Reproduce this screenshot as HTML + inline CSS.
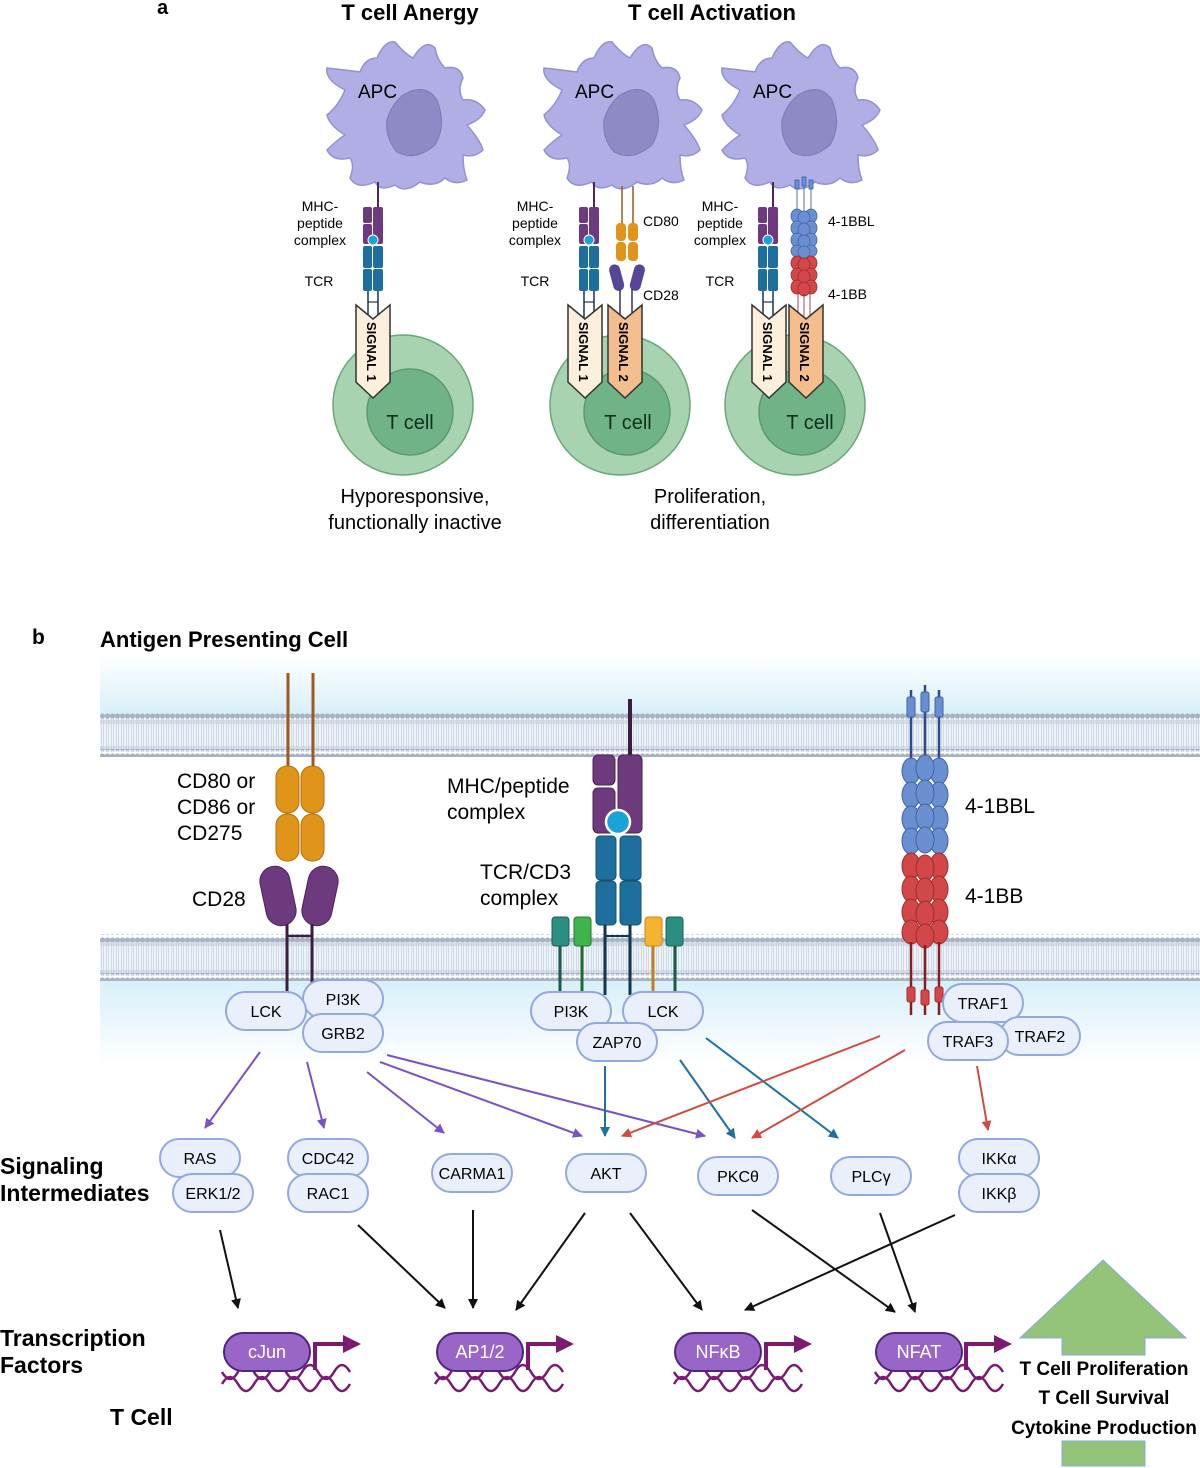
<!DOCTYPE html>
<html><head><meta charset="utf-8"><style>
html,body{margin:0;padding:0;background:#fff}
svg{display:block;font-family:"Liberation Sans",sans-serif}
</style></head><body>
<svg width="1200" height="1468" viewBox="0 0 1200 1468" xmlns="http://www.w3.org/2000/svg">
<defs>
<linearGradient id="gtop" x1="0" y1="0" x2="0" y2="1"><stop offset="0" stop-color="#fff"/><stop offset="1" stop-color="#d8eff9"/></linearGradient>
<linearGradient id="gbot" x1="0" y1="0" x2="0" y2="1"><stop offset="0" stop-color="#d8eff9"/><stop offset="1" stop-color="#fff"/></linearGradient>
<pattern id="beads" width="5" height="8" patternUnits="userSpaceOnUse"><circle cx="2.5" cy="4" r="2.6" fill="#a7b2c4"/></pattern>
<pattern id="tails" width="5" height="10" patternUnits="userSpaceOnUse"><rect width="5" height="10" fill="#eef3f9"/><line x1="1.5" y1="0" x2="1.5" y2="10" stroke="#c9d3e2" stroke-width="0.8"/><line x1="3.5" y1="0" x2="3.5" y2="10" stroke="#c9d3e2" stroke-width="0.8"/></pattern>
<marker id="ap" viewBox="0 0 10 10" refX="9" refY="5" markerWidth="5" markerHeight="5" orient="auto"><path d="M0,0L10,5L0,10z" fill="#7a52c4"/></marker>
<marker id="ab" viewBox="0 0 10 10" refX="9" refY="5" markerWidth="5" markerHeight="5" orient="auto"><path d="M0,0L10,5L0,10z" fill="#1f6f9f"/></marker>
<marker id="ar" viewBox="0 0 10 10" refX="9" refY="5" markerWidth="5" markerHeight="5" orient="auto"><path d="M0,0L10,5L0,10z" fill="#d04a40"/></marker>
<marker id="ak" viewBox="0 0 10 10" refX="9" refY="5" markerWidth="5" markerHeight="5" orient="auto"><path d="M0,0L10,5L0,10z" fill="#111"/></marker>
<g id="apc">
 <path d="M-60,-30 Q-80,-40 -78,-52 Q-60,-50 -45,-48 Q-40,-62 -28,-62 Q-20,-80 -10,-78 Q0,-66 8,-62 Q20,-82 30,-72 Q32,-60 40,-52 Q55,-55 58,-42 Q52,-30 58,-20 Q72,-22 80,-10 Q76,0 62,5 Q75,20 78,30 Q70,38 58,35 Q58,50 62,60 Q50,66 40,58 Q30,68 15,62 Q0,74 -10,65 Q-25,72 -30,62 Q-48,70 -55,58 Q-50,45 -55,38 Q-72,42 -78,30 Q-68,20 -60,15 Q-76,5 -78,-5 Q-66,-15 -60,-30z" fill="#b0aee4" stroke="#9491d0" stroke-width="1.5"/>
 <path d="M-2,-25 Q20,-38 32,-20 Q42,5 30,25 Q10,42 -8,32 Q-20,18 -18,0 Q-14,-15 -2,-25z" fill="#8e8ac6" stroke="#7d79b8" stroke-width="1"/>
</g>
<g id="tcell">
 <circle cx="0" cy="0" r="70" fill="#a8d3b0" stroke="#6aa578" stroke-width="1.5"/>
 <circle cx="7" cy="7" r="43" fill="#70b387" stroke="#5c9a6e" stroke-width="1.5"/>
</g>
<g id="mhc">
 <line x1="6" y1="-25" x2="6" y2="0" stroke="#4a2a55" stroke-width="2"/>
 <rect x="-9" y="0" width="9" height="16" rx="2" fill="#6e3a7e"/>
 <rect x="-9" y="17" width="9" height="20" rx="2" fill="#6e3a7e"/>
 <rect x="1" y="0" width="10" height="37" rx="2" fill="#6e3a7e"/>
 <circle cx="1" cy="33" r="5" fill="#1aa3d8" stroke="#fff" stroke-width="1"/>
 <rect x="-9" y="39" width="9" height="22" rx="2" fill="#1e6f9d"/>
 <rect x="1" y="39" width="10" height="22" rx="2" fill="#1e6f9d"/>
 <rect x="-9" y="62" width="9" height="22" rx="2" fill="#1e6f9d"/>
 <rect x="1" y="62" width="10" height="22" rx="2" fill="#1e6f9d"/>
 <line x1="-4" y1="84" x2="-4" y2="120" stroke="#1a3550" stroke-width="1.5"/>
 <line x1="6" y1="84" x2="6" y2="120" stroke="#1a3550" stroke-width="1.5"/>
 <line x1="-4" y1="95" x2="6" y2="95" stroke="#1a3550" stroke-width="1.2"/>
</g>
<polygon id="chev" points="-17,0 0,14 17,0 17,77 0,93 -17,77" stroke="#333" stroke-width="1.5"/>
<g id="node"><rect x="-40" y="-19" width="80" height="38" rx="19" fill="#e9f0fb" stroke="#93a8dc" stroke-width="2"/></g>
</defs>

<text x="157" y="14" font-size="20" font-weight="bold">a</text>
<text x="410" y="20" font-size="22" font-weight="bold" text-anchor="middle">T cell Anergy</text>
<text x="712" y="20" font-size="22" font-weight="bold" text-anchor="middle">T cell Activation</text>

<use href="#apc" x="405" y="120"/>
<use href="#apc" x="622" y="120"/>
<use href="#apc" x="800" y="120"/>
<text x="358" y="98" font-size="19">APC</text>
<text x="575" y="98" font-size="19">APC</text>
<text x="753" y="98" font-size="19">APC</text>

<use href="#tcell" x="403" y="405"/>
<use href="#tcell" x="620" y="405"/>
<use href="#tcell" x="795" y="405"/>
<text x="410" y="429" font-size="20" text-anchor="middle" fill="#10301c">T cell</text>
<text x="628" y="429" font-size="20" text-anchor="middle" fill="#10301c">T cell</text>
<text x="810" y="429" font-size="20" text-anchor="middle" fill="#10301c">T cell</text>

<use href="#mhc" x="372" y="207"/>
<use href="#mhc" x="588" y="207"/>
<use href="#mhc" x="767" y="207"/>

<line x1="622" y1="186" x2="622" y2="224" stroke="#9a5a20" stroke-width="1.5"/>
<line x1="633" y1="186" x2="633" y2="224" stroke="#9a5a20" stroke-width="1.5"/>
<rect x="616" y="223" width="10" height="18" rx="4" fill="#e0941a"/>
<rect x="628" y="223" width="10" height="18" rx="4" fill="#e0941a"/>
<rect x="616" y="242" width="10" height="19" rx="4" fill="#e0941a"/>
<rect x="628" y="242" width="10" height="19" rx="4" fill="#e0941a"/>
<rect x="611" y="264" width="11" height="27" rx="5.5" fill="#574596" transform="rotate(-15 617 277)"/>
<rect x="632" y="264" width="11" height="27" rx="5.5" fill="#574596" transform="rotate(15 637 277)"/>
<line x1="620" y1="289" x2="620" y2="325" stroke="#333366" stroke-width="1.5"/>
<line x1="632" y1="289" x2="632" y2="325" stroke="#333366" stroke-width="1.5"/>

<g fill="#6a8fd0" stroke="#3e62a8" stroke-width="0.8">
<line x1="797" y1="182" x2="797" y2="212" stroke="#2e4c8c"/><line x1="804" y1="178" x2="804" y2="212" stroke="#2e4c8c"/><line x1="811" y1="182" x2="811" y2="212" stroke="#2e4c8c"/>
<rect x="795" y="180" width="4" height="9"/><rect x="802" y="177" width="4" height="9"/><rect x="809" y="180" width="4" height="9"/>
<ellipse cx="797" cy="216" rx="6" ry="7"/><ellipse cx="811" cy="216" rx="6" ry="7"/><ellipse cx="804" cy="218" rx="6" ry="7"/>
<ellipse cx="797" cy="228" rx="6" ry="7"/><ellipse cx="811" cy="228" rx="6" ry="7"/><ellipse cx="804" cy="230" rx="6" ry="7"/>
<ellipse cx="797" cy="240" rx="6" ry="7"/><ellipse cx="811" cy="240" rx="6" ry="7"/><ellipse cx="804" cy="242" rx="6" ry="7"/>
<ellipse cx="797" cy="251" rx="6" ry="6"/><ellipse cx="811" cy="251" rx="6" ry="6"/><ellipse cx="804" cy="252" rx="6" ry="6"/>
</g>
<g fill="#d24848" stroke="#a02c2c" stroke-width="0.8">
<ellipse cx="797" cy="263" rx="6" ry="7"/><ellipse cx="811" cy="263" rx="6" ry="7"/><ellipse cx="804" cy="265" rx="6" ry="7"/>
<ellipse cx="797" cy="275" rx="6" ry="7"/><ellipse cx="811" cy="275" rx="6" ry="7"/><ellipse cx="804" cy="277" rx="6" ry="7"/>
<ellipse cx="797" cy="287" rx="6" ry="7"/><ellipse cx="811" cy="287" rx="6" ry="7"/><ellipse cx="804" cy="289" rx="6" ry="7"/>
<line x1="798" y1="294" x2="798" y2="325" stroke="#8a1e1e"/><line x1="804" y1="294" x2="804" y2="325" stroke="#8a1e1e"/><line x1="810" y1="294" x2="810" y2="325" stroke="#8a1e1e"/>
</g>

<use href="#chev" x="373" y="305" fill="#fcefdc"/>
<use href="#chev" x="585" y="305" fill="#fcefdc"/>
<use href="#chev" x="625" y="305" fill="#f4bd8e"/>
<use href="#chev" x="769" y="305" fill="#fcefdc"/>
<use href="#chev" x="806" y="305" fill="#f4bd8e"/>
<g font-size="13" font-weight="bold">
<text transform="translate(367,322) rotate(90)">SIGNAL 1</text>
<text transform="translate(579,322) rotate(90)">SIGNAL 1</text>
<text transform="translate(619,322) rotate(90)">SIGNAL 2</text>
<text transform="translate(763,322) rotate(90)">SIGNAL 1</text>
<text transform="translate(800,322) rotate(90)">SIGNAL 2</text>
</g>

<g font-size="14" text-anchor="middle">
<text x="320" y="211">MHC-</text><text x="320" y="228">peptide</text><text x="320" y="245">complex</text>
<text x="535" y="211">MHC-</text><text x="535" y="228">peptide</text><text x="535" y="245">complex</text>
<text x="720" y="211">MHC-</text><text x="720" y="228">peptide</text><text x="720" y="245">complex</text>
<text x="319" y="286">TCR</text><text x="535" y="286">TCR</text><text x="720" y="286">TCR</text>
</g>
<g font-size="14">
<text x="643" y="226">CD80</text><text x="643" y="300">CD28</text>
<text x="828" y="226">4-1BBL</text><text x="828" y="299">4-1BB</text>
</g>
<g font-size="20" text-anchor="middle">
<text x="415" y="503">Hyporesponsive,</text><text x="415" y="529">functionally inactive</text>
<text x="710" y="503">Proliferation,</text><text x="710" y="529">differentiation</text>
</g>

<text x="32" y="644" font-size="21" font-weight="bold">b</text>
<text x="100" y="647" font-size="22" font-weight="bold">Antigen Presenting Cell</text>

<rect x="100" y="655" width="1100" height="60" fill="url(#gtop)"/>
<rect x="100" y="980" width="1100" height="85" fill="url(#gbot)"/>
<rect x="100" y="718" width="1100" height="34" fill="url(#tails)"/>
<rect x="100" y="712" width="1100" height="8" fill="url(#beads)"/>
<rect x="100" y="720" width="1100" height="4" fill="#c7d0de" opacity="0.6"/>
<rect x="100" y="746" width="1100" height="4" fill="#c7d0de" opacity="0.6"/>
<rect x="100" y="749" width="1100" height="8" fill="url(#beads)"/>
<rect x="100" y="940" width="1100" height="36" fill="url(#tails)"/>
<rect x="100" y="934" width="1100" height="8" fill="url(#beads)"/>
<rect x="100" y="942" width="1100" height="4" fill="#c7d0de" opacity="0.6"/>
<rect x="100" y="970" width="1100" height="4" fill="#c7d0de" opacity="0.6"/>
<rect x="100" y="973" width="1100" height="8" fill="url(#beads)"/>

<line x1="288" y1="673" x2="288" y2="770" stroke="#9a5a20" stroke-width="3"/>
<line x1="313" y1="673" x2="313" y2="770" stroke="#9a5a20" stroke-width="3"/>
<g fill="#e0941a" stroke="#b07010" stroke-width="1">
<rect x="276" y="766" width="23" height="47" rx="11"/><rect x="301" y="766" width="23" height="47" rx="11"/>
<rect x="276" y="814" width="23" height="47" rx="11"/><rect x="301" y="814" width="23" height="47" rx="11"/>
</g>
<g fill="#6e3a7e" stroke="#4a2558" stroke-width="1">
<rect x="263" y="866" width="30" height="60" rx="15" transform="rotate(-12 278 896)"/>
<rect x="305" y="866" width="30" height="60" rx="15" transform="rotate(12 320 896)"/>
</g>
<line x1="287" y1="924" x2="287" y2="992" stroke="#3a2040" stroke-width="3"/>
<line x1="312" y1="924" x2="312" y2="992" stroke="#3a2040" stroke-width="3"/>
<line x1="287" y1="936" x2="312" y2="936" stroke="#3a2040" stroke-width="2.5"/>

<line x1="630" y1="699" x2="630" y2="757" stroke="#3a2040" stroke-width="4"/>
<g fill="#6e3a7e" stroke="#4a2558" stroke-width="1">
<rect x="593" y="755" width="22" height="30" rx="5"/>
<rect x="593" y="788" width="22" height="45" rx="5"/>
<rect x="618" y="755" width="24" height="78" rx="5"/>
</g>
<circle cx="618" cy="822" r="12" fill="#1aa3d8" stroke="#fff" stroke-width="2.5"/>
<g fill="#1e6f9d" stroke="#15506f" stroke-width="1">
<rect x="596" y="836" width="20" height="44" rx="4"/><rect x="620" y="836" width="21" height="44" rx="4"/>
<rect x="596" y="881" width="20" height="44" rx="4"/><rect x="620" y="881" width="21" height="44" rx="4"/>
</g>
<line x1="605" y1="925" x2="605" y2="995" stroke="#13354d" stroke-width="3"/>
<line x1="630" y1="925" x2="630" y2="995" stroke="#13354d" stroke-width="3"/>
<line x1="605" y1="936" x2="630" y2="936" stroke="#13354d" stroke-width="2"/>
<rect x="552" y="917" width="17" height="29" rx="3" fill="#2a8f80" stroke="#1c6056"/>
<rect x="574" y="917" width="17" height="29" rx="3" fill="#3db54a" stroke="#237a2e"/>
<rect x="645" y="917" width="17" height="29" rx="3" fill="#f6b330" stroke="#c8871a"/>
<rect x="666" y="917" width="17" height="29" rx="3" fill="#2a8f80" stroke="#1c6056"/>
<line x1="560" y1="946" x2="560" y2="995" stroke="#1c5a48" stroke-width="3"/>
<line x1="582" y1="946" x2="582" y2="995" stroke="#206a30" stroke-width="3"/>
<line x1="653" y1="946" x2="653" y2="995" stroke="#c0801a" stroke-width="3"/>
<line x1="675" y1="946" x2="675" y2="995" stroke="#1c5a48" stroke-width="3"/>

<g stroke="#2e4c8c" stroke-width="2.5">
<line x1="911" y1="690" x2="911" y2="775"/><line x1="925" y1="685" x2="925" y2="775"/><line x1="939" y1="690" x2="939" y2="775"/>
</g>
<g fill="#6a8fd0" stroke="#3e62a8" stroke-width="1">
<rect x="907" y="697" width="8" height="20" rx="2"/><rect x="921" y="692" width="8" height="20" rx="2"/><rect x="935" y="697" width="8" height="20" rx="2"/>
<ellipse cx="911" cy="771" rx="9" ry="13"/><ellipse cx="939" cy="771" rx="9" ry="13"/><ellipse cx="925" cy="768" rx="9" ry="13"/>
<ellipse cx="911" cy="795" rx="9" ry="13"/><ellipse cx="939" cy="795" rx="9" ry="13"/><ellipse cx="925" cy="793" rx="9" ry="13"/>
<ellipse cx="911" cy="819" rx="9" ry="13"/><ellipse cx="939" cy="819" rx="9" ry="13"/><ellipse cx="925" cy="817" rx="9" ry="13"/>
<ellipse cx="911" cy="841" rx="9" ry="13"/><ellipse cx="939" cy="841" rx="9" ry="13"/><ellipse cx="925" cy="840" rx="9" ry="13"/>
</g>
<g fill="#d24848" stroke="#a02c2c" stroke-width="1">
<ellipse cx="911" cy="866" rx="9" ry="13"/><ellipse cx="939" cy="866" rx="9" ry="13"/><ellipse cx="925" cy="868" rx="9" ry="13"/>
<ellipse cx="911" cy="889" rx="9" ry="13"/><ellipse cx="939" cy="889" rx="9" ry="13"/><ellipse cx="925" cy="891" rx="9" ry="13"/>
<ellipse cx="911" cy="912" rx="9" ry="13"/><ellipse cx="939" cy="912" rx="9" ry="13"/><ellipse cx="925" cy="914" rx="9" ry="13"/>
<ellipse cx="911" cy="932" rx="9" ry="12"/><ellipse cx="939" cy="932" rx="9" ry="12"/><ellipse cx="925" cy="936" rx="9" ry="12"/>
</g>
<g stroke="#8a1e1e" stroke-width="2.5">
<line x1="911" y1="942" x2="911" y2="1015"/><line x1="925" y1="945" x2="925" y2="1015"/><line x1="939" y1="942" x2="939" y2="1015"/>
</g>
<g fill="#d24848" stroke="#a02c2c"><rect x="907" y="987" width="8" height="15" rx="2"/><rect x="921" y="990" width="8" height="15" rx="2"/><rect x="935" y="987" width="8" height="15" rx="2"/></g>

<g font-size="21">
<text x="177" y="788">CD80 or</text><text x="177" y="814">CD86 or</text><text x="177" y="840">CD275</text>
<text x="192" y="906">CD28</text>
<text x="447" y="793">MHC/peptide</text><text x="447" y="819">complex</text>
<text x="480" y="879">TCR/CD3</text><text x="480" y="905">complex</text>
<text x="965" y="813">4-1BBL</text><text x="965" y="903">4-1BB</text>
</g>

<g stroke-width="2" fill="none">
<line x1="260" y1="1052" x2="205" y2="1128" stroke="#7a52c4" marker-end="url(#ap)"/>
<line x1="307" y1="1062" x2="324" y2="1128" stroke="#7a52c4" marker-end="url(#ap)"/>
<line x1="367" y1="1072" x2="444" y2="1133" stroke="#7a52c4" marker-end="url(#ap)"/>
<line x1="380" y1="1062" x2="582" y2="1136" stroke="#7a52c4" marker-end="url(#ap)"/>
<line x1="387" y1="1055" x2="705" y2="1136" stroke="#7a52c4" marker-end="url(#ap)"/>
<line x1="605" y1="1066" x2="605" y2="1136" stroke="#1f6f9f" marker-end="url(#ab)"/>
<line x1="680" y1="1060" x2="735" y2="1138" stroke="#1f6f9f" marker-end="url(#ab)"/>
<line x1="706" y1="1038" x2="838" y2="1138" stroke="#1f6f9f" marker-end="url(#ab)"/>
<line x1="880" y1="1036" x2="622" y2="1136" stroke="#d04a40" marker-end="url(#ar)"/>
<line x1="905" y1="1050" x2="752" y2="1138" stroke="#d04a40" marker-end="url(#ar)"/>
<line x1="977" y1="1066" x2="988" y2="1130" stroke="#d04a40" marker-end="url(#ar)"/>
<line x1="220" y1="1230" x2="238" y2="1308" stroke="#111" marker-end="url(#ak)"/>
<line x1="358" y1="1225" x2="445" y2="1308" stroke="#111" marker-end="url(#ak)"/>
<line x1="473" y1="1210" x2="473" y2="1308" stroke="#111" marker-end="url(#ak)"/>
<line x1="585" y1="1213" x2="516" y2="1310" stroke="#111" marker-end="url(#ak)"/>
<line x1="630" y1="1213" x2="702" y2="1310" stroke="#111" marker-end="url(#ak)"/>
<line x1="955" y1="1215" x2="745" y2="1310" stroke="#111" marker-end="url(#ak)"/>
<line x1="752" y1="1210" x2="895" y2="1312" stroke="#111" marker-end="url(#ak)"/>
<line x1="880" y1="1213" x2="915" y2="1312" stroke="#111" marker-end="url(#ak)"/>
</g>

<g font-size="16" text-anchor="middle">
<use href="#node" x="343" y="999"/><use href="#node" x="266" y="1011"/><use href="#node" x="343" y="1033"/>
<text x="266" y="1017">LCK</text><text x="343" y="1005">PI3K</text><text x="343" y="1039">GRB2</text>
<use href="#node" x="571" y="1011"/><use href="#node" x="663" y="1011"/><use href="#node" x="617" y="1042"/>
<text x="571" y="1017">PI3K</text><text x="663" y="1017">LCK</text><text x="617" y="1048">ZAP70</text>
<use href="#node" x="983" y="1003"/><use href="#node" x="1040" y="1036"/><use href="#node" x="968" y="1041"/>
<text x="983" y="1009">TRAF1</text><text x="1040" y="1042">TRAF2</text><text x="968" y="1047">TRAF3</text>
<use href="#node" x="200" y="1158"/><use href="#node" x="213" y="1193"/>
<text x="200" y="1164">RAS</text><text x="213" y="1199">ERK1/2</text>
<use href="#node" x="328" y="1158"/><use href="#node" x="328" y="1193"/>
<text x="328" y="1164">CDC42</text><text x="328" y="1199">RAC1</text>
<use href="#node" x="472" y="1173"/><text x="472" y="1179">CARMA1</text>
<use href="#node" x="606" y="1173"/><text x="606" y="1179">AKT</text>
<use href="#node" x="738" y="1176"/><text x="738" y="1182">PKCθ</text>
<use href="#node" x="871" y="1176"/><text x="871" y="1182">PLCγ</text>
<use href="#node" x="999" y="1158"/><use href="#node" x="999" y="1193"/>
<text x="999" y="1164">IKKα</text><text x="999" y="1199">IKKβ</text>
</g>

<g font-size="23" font-weight="bold">
<text x="0" y="1174">Signaling</text><text x="0" y="1201">Intermediates</text>
<text x="0" y="1346">Transcription</text><text x="0" y="1373">Factors</text>
<text x="110" y="1425">T Cell</text>
</g>

<g stroke="#7a1a70" stroke-width="2.5" fill="none">
<path d="M222,1372 q8,14 16,0 t16,0 t16,0 t16,0 t16,0 t16,0 t16,0 t16,0"/>
<path d="M222,1384 q8,-14 16,0 t16,0 t16,0 t16,0 t16,0 t16,0 t16,0 t16,0"/>
<path d="M435,1372 q8,14 16,0 t16,0 t16,0 t16,0 t16,0 t16,0 t16,0 t16,0"/>
<path d="M435,1384 q8,-14 16,0 t16,0 t16,0 t16,0 t16,0 t16,0 t16,0 t16,0"/>
<path d="M674,1372 q8,14 16,0 t16,0 t16,0 t16,0 t16,0 t16,0 t16,0 t16,0"/>
<path d="M674,1384 q8,-14 16,0 t16,0 t16,0 t16,0 t16,0 t16,0 t16,0 t16,0"/>
<path d="M875,1372 q8,14 16,0 t16,0 t16,0 t16,0 t16,0 t16,0 t16,0 t16,0"/>
<path d="M875,1384 q8,-14 16,0 t16,0 t16,0 t16,0 t16,0 t16,0 t16,0 t16,0"/>
<path d="M315,1370 V1344 H345" stroke-width="4"/>
<path d="M528,1370 V1344 H558" stroke-width="4"/>
<path d="M766,1370 V1344 H796" stroke-width="4"/>
<path d="M966,1370 V1344 H996" stroke-width="4"/>
</g>
<g fill="#7a1a70">
<polygon points="343,1335 361,1344 343,1353"/><polygon points="556,1335 574,1344 556,1353"/>
<polygon points="794,1335 812,1344 794,1353"/><polygon points="994,1335 1012,1344 994,1353"/>
</g>
<g fill="#9966c8" stroke="#4f2580" stroke-width="2">
<rect x="224" y="1333" width="86" height="38" rx="19"/>
<rect x="437" y="1333" width="86" height="38" rx="19"/>
<rect x="675" y="1333" width="86" height="38" rx="19"/>
<rect x="876" y="1333" width="86" height="38" rx="19"/>
</g>
<g font-size="18" fill="#fff" text-anchor="middle">
<text x="267" y="1358">cJun</text><text x="480" y="1358">AP1/2</text><text x="718" y="1358">NFκB</text><text x="919" y="1358">NFAT</text>
</g>

<polygon points="1020,1338 1103,1260 1186,1338 1145,1338 1145,1355 1062,1355 1062,1338" fill="#94c47a" stroke="#8aa8d8" stroke-width="1"/>
<rect x="1062" y="1441" width="83" height="25" fill="#94c47a" stroke="#8aa8d8" stroke-width="1"/>
<g font-size="19" font-weight="bold" text-anchor="middle">
<text x="1104" y="1375">T Cell Proliferation</text>
<text x="1104" y="1404">T Cell Survival</text>
<text x="1104" y="1434">Cytokine Production</text>
</g>
</svg>
</body></html>
